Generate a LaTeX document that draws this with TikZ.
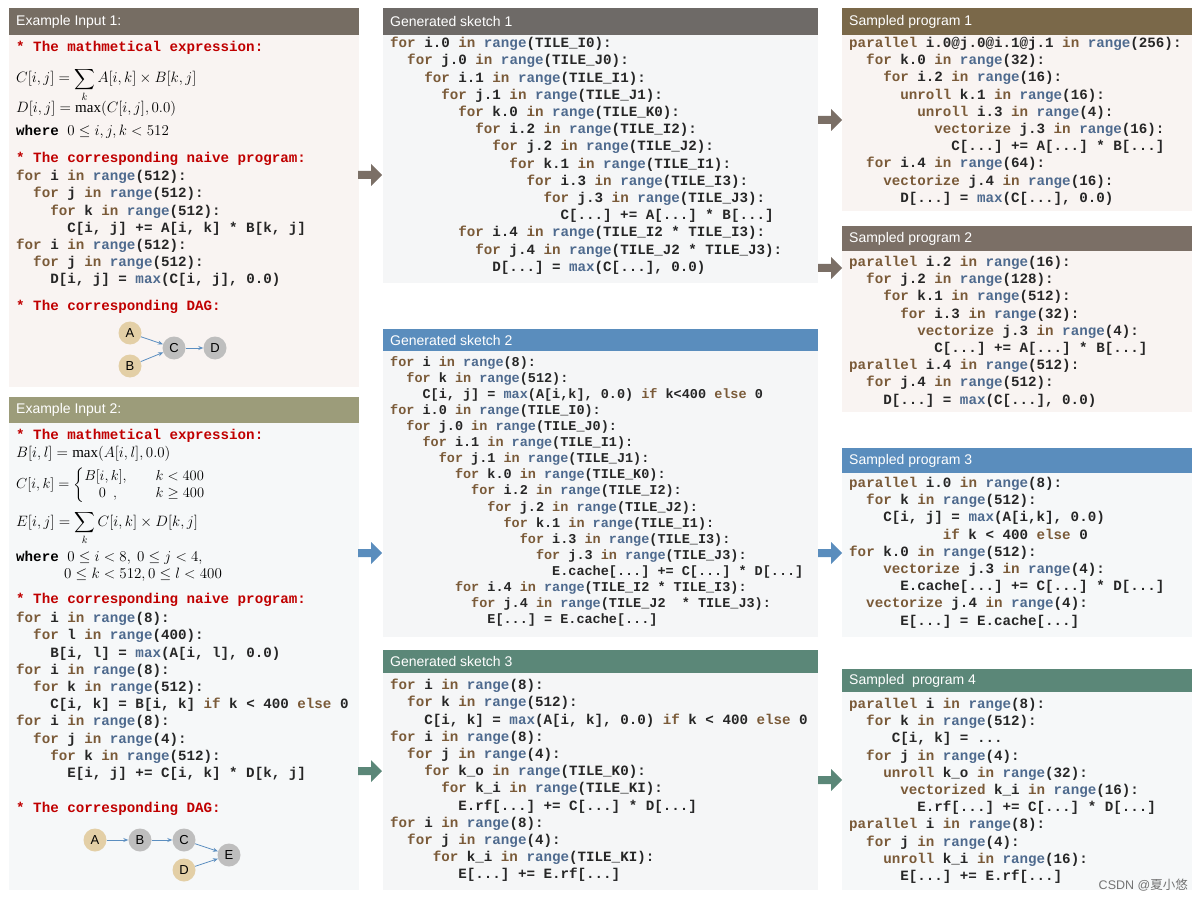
\RequirePackage{fix-cm}
\documentclass[tikz,border=0pt]{standalone}
\usepackage{fontspec}
\usepackage{amsmath}
\setmainfont{Liberation Serif}
\setsansfont{Liberation Sans}
\setmonofont{Liberation Mono}
\newfontfamily\cjk{Noto Sans CJK SC}
\usetikzlibrary{arrows.meta}
\definecolor{kwA}{HTML}{7A5A38}
\definecolor{kwB}{HTML}{4E6A8E}
\definecolor{redh}{HTML}{C00000}
\definecolor{hIn1}{HTML}{766D63}
\definecolor{hIn2}{HTML}{9C9C7A}
\definecolor{hSk1}{HTML}{6E6A67}
\definecolor{hSp1}{HTML}{7A6849}
\definecolor{hSp2}{HTML}{7B6F66}
\definecolor{hBlue}{HTML}{5A8DBD}
\definecolor{hTeal}{HTML}{5B8778}
\definecolor{bgPink}{HTML}{F9F4F2}
\definecolor{bgGray}{HTML}{F5F6F7}
\definecolor{bgBlue}{HTML}{F6F8F9}
\definecolor{dagBeige}{HTML}{E3CFA6}
\definecolor{dagGray}{HTML}{BEBEBE}
\definecolor{arrBlue}{HTML}{5B8EC0}
\newcommand\I[1]{\hspace*{#1\dimexpr0.6em\relax}}
\newcommand\Fo{\textcolor{kwA}{for}}
\newcommand\In{\textcolor{kwA}{in}}
\newcommand\Rg{\textcolor{kwB}{range}}
\newcommand\Mx{\textcolor{kwB}{max}}
\newcommand\Pa{\textcolor{kwA}{parallel}}
\newcommand\Un{\textcolor{kwA}{unroll}}
\newcommand\Ve{\textcolor{kwA}{vectorize}}
\newcommand\Vd{\textcolor{kwA}{vectorized}}
\newcommand\If{\textcolor{kwA}{if}}
\newcommand\El{\textcolor{kwA}{else}}
\tikzset{
  code/.style={inner sep=0pt, anchor=north west, align=left, text=black!85,
    font=\ttfamily\bfseries\fontsize{14.2}{17.2}\selectfont},
  codeb/.style={code, font=\ttfamily\bfseries\fontsize{13.5}{16.1}\selectfont},
  redhd/.style={inner sep=0pt, anchor=west, text=redh, font=\ttfamily\bfseries\fontsize{14.2}{16}\selectfont},
  hdtext/.style={inner sep=0pt, anchor=west, text=white, font=\sffamily\fontsize{14}{16}\selectfont},
  mathn/.style={inner sep=0pt, font=\fontsize{15}{18}\selectfont},
  dag/.style={circle, inner sep=0pt, minimum size=23pt, font=\sffamily\fontsize{13}{15}\selectfont},
  dagA/.style={draw=arrBlue, line width=0.8pt, -{Stealth[length=5pt,width=4pt]}},
}
\newcommand\fat[3]{\fill[#3] (#1,#2-4) -- (#1+13,#2-4) -- (#1+13,#2-11) -- (#1+24,#2) -- (#1+13,#2+11) -- (#1+13,#2+4) -- (#1,#2+4) -- cycle;}
\begin{document}
\begin{tikzpicture}[x=1pt,y=-1pt]
\useasboundingbox (0,0) rectangle (1202,901);
% ---------- panels ----------
\fill[hIn1] (9,8) rectangle (359,35);   \fill[bgPink] (9,35) rectangle (359,387);
\fill[hIn2] (9,397) rectangle (359,423); \fill[bgBlue] (9,423) rectangle (359,890);
\fill[hSk1] (383,8) rectangle (818,35);  \fill[bgGray] (383,35) rectangle (818,283);
\fill[hBlue] (383,329) rectangle (818,351); \fill[bgGray] (383,351) rectangle (818,637);
\fill[hTeal] (383,650) rectangle (818,673); \fill[bgGray] (383,673) rectangle (818,890);
\fill[hSp1] (842,8) rectangle (1192,35); \fill[bgPink] (842,35) rectangle (1192,211);
\fill[hSp2] (842,226) rectangle (1192,251); \fill[bgPink] (842,251) rectangle (1192,412);
\fill[hBlue] (842,448) rectangle (1192,473); \fill[bgBlue] (842,473) rectangle (1192,637);
\fill[hTeal] (842,669) rectangle (1192,692); \fill[bgBlue] (842,692) rectangle (1192,890);
\node[hdtext] (h1) at (16,21.5) {Example Input 1:};
\node[hdtext] (h2) at (16,410) {Example Input 2:};
\node[hdtext] (h3) at (390,21.5) {Generated sketch 1};
\node[hdtext] (h4) at (390,340) {Generated sketch 2};
\node[hdtext] (h5) at (390,661.5) {Generated sketch 3};
\node[hdtext] (h6) at (849,21.5) {Sampled program 1};
\node[hdtext] (h7) at (849,238.5) {Sampled program 2};
\node[hdtext] (h8) at (849,460.5) {Sampled program 3};
\node[hdtext] (h9) at (849,680.5) {Sampled\ \ program 4};
% ---------- arrows ----------
\fat{358}{175}{hSp2}
\fat{818}{120}{hSp2}
\fat{818}{268}{hSp2}
\fat{358}{553}{hBlue}
\fat{818}{553}{hBlue}
\fat{358}{771}{hTeal}
\fat{818}{780}{hTeal}
% ---------- Input 1 ----------
\node[redhd] (r1) at (16,48) {* The mathmetical expression:};
\node[mathn, anchor=base west] (m1) at (16,83) {$C[i,j]=\displaystyle\sum_{k} A[i,k]\times B[k,j]$};
\node[mathn, anchor=base west] (m2) at (16,113) {$D[i,j]=\max(C[i,j],0.0)$};
\node[mathn, anchor=base west] (m3) at (16,136) {\ttfamily\bfseries\fontsize{14.2}{16}\selectfont where\ \rmfamily\mdseries\fontsize{15}{18}\selectfont $0\le i,j,k<512$};
\node[redhd] (r2) at (16,159) {* The corresponding naive program:};
\node[code] (p1) at (16,170) {\Fo{} i \In{} \Rg(512):\\
\I2\Fo{} j \In{} \Rg(512):\\
\I4\Fo{} k \In{} \Rg(512):\\
\I6C[i, j] += A[i, k] * B[k, j]\\
\Fo{} i \In{} \Rg(512):\\
\I2\Fo{} j \In{} \Rg(512):\\
\I4D[i, j] = \Mx(C[i, j], 0.0)};
\node[redhd] (r3) at (16,307) {* The corresponding DAG:};
\node[dag, fill=dagBeige] (a1) at (130,333) {A};
\node[dag, fill=dagBeige] (b1) at (130,366) {B};
\node[dag, fill=dagGray] (c1) at (174,348) {C};
\node[dag, fill=dagGray] (d1) at (215,348) {D};
\draw[dagA] (a1) -- (c1);
\draw[dagA] (b1) -- (c1);
\draw[dagA] (c1) -- (d1);
% ---------- Input 2 ----------
\node[redhd] (r4) at (16,436) {* The mathmetical expression:};
\node[mathn, anchor=base west] (m4) at (16,457) {$B[i,l]=\max(A[i,l],0.0)$};
\node[mathn, anchor=west, font=\fontsize{14.5}{16}\selectfont] (m5) at (16,485) {$C[i,k]=\begin{cases}B[i,k], & \quad k<400\\[-2pt] \quad 0\ \ , & \quad k\ge 400\end{cases}$};
\node[mathn, anchor=base west] (m6) at (16,526) {$E[i,j]=\displaystyle\sum_{k} C[i,k]\times D[k,j]$};
\node[mathn, anchor=base west] (m7) at (16,561) {\ttfamily\bfseries\fontsize{14.2}{16}\selectfont where\ \rmfamily\mdseries\fontsize{15}{18}\selectfont $0\le i<8,\ 0\le j<4,$};
\node[mathn, anchor=base west] (m8) at (64,578) {$0\le k<512, 0\le l<400$};
\node[redhd] (r5) at (16,600) {* The corresponding naive program:};
\node[code] (p2) at (16,612) {\Fo{} i \In{} \Rg(8):\\
\I2\Fo{} l \In{} \Rg(400):\\
\I4B[i, l] = \Mx(A[i, l], 0.0)\\
\Fo{} i \In{} \Rg(8):\\
\I2\Fo{} k \In{} \Rg(512):\\
\I4C[i, k] = B[i, k] \If{} k < 400 \El{} 0\\
\Fo{} i \In{} \Rg(8):\\
\I2\Fo{} j \In{} \Rg(4):\\
\I4\Fo{} k \In{} \Rg(512):\\
\I6E[i, j] += C[i, k] * D[k, j]};
\node[redhd] (r6) at (16,809) {* The corresponding DAG:};
\node[dag, fill=dagBeige] (a2) at (95,840) {A};
\node[dag, fill=dagGray] (b2) at (140,840) {B};
\node[dag, fill=dagGray] (c2) at (184,840) {C};
\node[dag, fill=dagBeige] (d2) at (184,870) {D};
\node[dag, fill=dagGray] (e2) at (229,855) {E};
\draw[dagA] (a2) -- (b2);
\draw[dagA] (b2) -- (c2);
\draw[dagA] (c2) -- (e2);
\draw[dagA] (d2) -- (e2);
% ---------- Sketch 1 ----------
\node[code] (s1) at (390,37) {\Fo{} i.0 \In{} \Rg(TILE\_I0):\\
\I2\Fo{} j.0 \In{} \Rg(TILE\_J0):\\
\I4\Fo{} i.1 \In{} \Rg(TILE\_I1):\\
\I6\Fo{} j.1 \In{} \Rg(TILE\_J1):\\
\I8\Fo{} k.0 \In{} \Rg(TILE\_K0):\\
\I{10}\Fo{} i.2 \In{} \Rg(TILE\_I2):\\
\I{12}\Fo{} j.2 \In{} \Rg(TILE\_J2):\\
\I{14}\Fo{} k.1 \In{} \Rg(TILE\_I1):\\
\I{16}\Fo{} i.3 \In{} \Rg(TILE\_I3):\\
\I{18}\Fo{} j.3 \In{} \Rg(TILE\_J3):\\
\I{20}C[...] += A[...] * B[...]\\
\I8\Fo{} i.4 \In{} \Rg(TILE\_I2 * TILE\_I3):\\
\I{10}\Fo{} j.4 \In{} \Rg(TILE\_J2 * TILE\_J3):\\
\I{12}D[...] = \Mx(C[...], 0.0)};
% ---------- Sketch 2 ----------
\node[codeb] (s2) at (390,356) {\Fo{} i \In{} \Rg(8):\\
\I2\Fo{} k \In{} \Rg(512):\\
\I4C[i, j] = \Mx(A[i,k], 0.0) \If{} k<400 \El{} 0\\
\Fo{} i.0 \In{} \Rg(TILE\_I0):\\
\I2\Fo{} j.0 \In{} \Rg(TILE\_J0):\\
\I4\Fo{} i.1 \In{} \Rg(TILE\_I1):\\
\I6\Fo{} j.1 \In{} \Rg(TILE\_J1):\\
\I8\Fo{} k.0 \In{} \Rg(TILE\_K0):\\
\I{10}\Fo{} i.2 \In{} \Rg(TILE\_I2):\\
\I{12}\Fo{} j.2 \In{} \Rg(TILE\_J2):\\
\I{14}\Fo{} k.1 \In{} \Rg(TILE\_I1):\\
\I{16}\Fo{} i.3 \In{} \Rg(TILE\_I3):\\
\I{18}\Fo{} j.3 \In{} \Rg(TILE\_J3):\\
\I{20}E.cache[...] += C[...] * D[...]\\
\I8\Fo{} i.4 \In{} \Rg(TILE\_I2 * TILE\_I3):\\
\I{10}\Fo{} j.4 \In{} \Rg(TILE\_J2\ \ * TILE\_J3):\\
\I{12}E[...] = E.cache[...]};
% ---------- Sketch 3 ----------
\node[code] (s3) at (390,679) {\Fo{} i \In{} \Rg(8):\\
\I2\Fo{} k \In{} \Rg(512):\\
\I4C[i, k] = \Mx(A[i, k], 0.0) \If{} k < 400 \El{} 0\\
\Fo{} i \In{} \Rg(8):\\
\I2\Fo{} j \In{} \Rg(4):\\
\I4\Fo{} k\_o \In{} \Rg(TILE\_K0):\\
\I6\Fo{} k\_i \In{} \Rg(TILE\_KI):\\
\I8E.rf[...] += C[...] * D[...]\\
\Fo{} i \In{} \Rg(8):\\
\I2\Fo{} j \In{} \Rg(4):\\
\I5\Fo{} k\_i \In{} \Rg(TILE\_KI):\\
\I8E[...] += E.rf[...]};
% ---------- Sampled 1 ----------
\node[code] (q1) at (849,37) {\Pa{} i.0@j.0@i.1@j.1 \In{} \Rg(256):\\
\I2\Fo{} k.0 \In{} \Rg(32):\\
\I4\Fo{} i.2 \In{} \Rg(16):\\
\I6\Un{} k.1 \In{} \Rg(16):\\
\I8\Un{} i.3 \In{} \Rg(4):\\
\I{10}\Ve{} j.3 \In{} \Rg(16):\\
\I{12}C[...] += A[...] * B[...]\\
\I2\Fo{} i.4 \In{} \Rg(64):\\
\I4\Ve{} j.4 \In{} \Rg(16):\\
\I6D[...] = \Mx(C[...], 0.0)};
% ---------- Sampled 2 ----------
\node[code] (q2) at (849,256) {\Pa{} i.2 \In{} \Rg(16):\\
\I2\Fo{} j.2 \In{} \Rg(128):\\
\I4\Fo{} k.1 \In{} \Rg(512):\\
\I6\Fo{} i.3 \In{} \Rg(32):\\
\I8\Ve{} j.3 \In{} \Rg(4):\\
\I{10}C[...] += A[...] * B[...]\\
\Pa{} i.4 \In{} \Rg(512):\\
\I2\Fo{} j.4 \In{} \Rg(512):\\
\I4D[...] = \Mx(C[...], 0.0)};
% ---------- Sampled 3 ----------
\node[code] (q3) at (849,477) {\Pa{} i.0 \In{} \Rg(8):\\
\I2\Fo{} k \In{} \Rg(512):\\
\I4C[i, j] = \Mx(A[i,k], 0.0)\\
\I{11}\If{} k < 400 \El{} 0\\
\Fo{} k.0 \In{} \Rg(512):\\
\I4\Ve{} j.3 \In{} \Rg(4):\\
\I6E.cache[...] += C[...] * D[...]\\
\I2\Ve{} j.4 \In{} \Rg(4):\\
\I6E[...] = E.cache[...]};
% ---------- Sampled 4 ----------
\node[code] (q4) at (849,698) {\Pa{} i \In{} \Rg(8):\\
\I2\Fo{} k \In{} \Rg(512):\\
\I5C[i, k] = ...\\
\I2\Fo{} j \In{} \Rg(4):\\
\I4\Un{} k\_o \In{} \Rg(32):\\
\I6\Vd{} k\_i \In{} \Rg(16):\\
\I8E.rf[...] += C[...] * D[...]\\
\Pa{} i \In{} \Rg(8):\\
\I2\Fo{} j \In{} \Rg(4):\\
\I4\Un{} k\_i \In{} \Rg(16):\\
\I6E[...] += E.rf[...]};
\node[inner sep=0pt, anchor=east, text=black!55, font=\sffamily\fontsize{12.5}{14}\selectfont] (wm) at (1188,885) {CSDN @{\cjk 夏小悠}};
\end{tikzpicture}
\end{document}
